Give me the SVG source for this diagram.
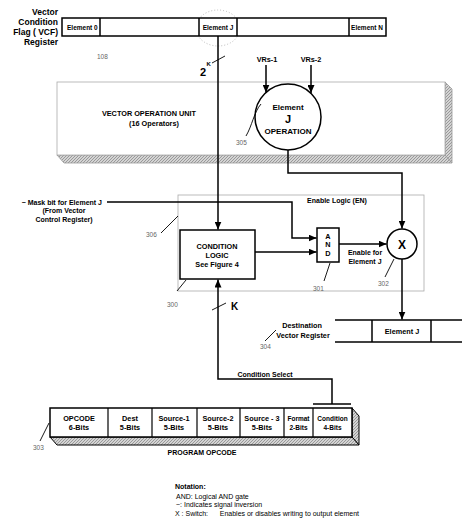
<svg xmlns="http://www.w3.org/2000/svg" width="474" height="526" viewBox="0 0 474 526">
<defs>
<marker id="arr" markerUnits="userSpaceOnUse" markerWidth="8" markerHeight="7" refX="8" refY="3.5" orient="auto">
<path d="M0,0 L8,3.5 L0,7 z" fill="#000"/>
</marker>
<pattern id="hatch" width="3" height="3" patternUnits="userSpaceOnUse">
<rect width="3" height="3" fill="#d4d4d4"/>
<path d="M0,3 L3,0" stroke="#8a8a8a" stroke-width="0.8"/>
</pattern>
<style>
text{font-family:"Liberation Sans",Arial,sans-serif;fill:#000}
.b{font-weight:bold}
.lbl{font-size:7.3px;font-weight:bold}
.ref{font-size:6.5px;fill:#666}
.box{fill:#fff;stroke:#000;stroke-width:1.5}
.wire{fill:none;stroke:#000;stroke-width:1.5}
.lead{fill:none;stroke:#000;stroke-width:0.9}
.note{font-size:7px}
</style>
</defs>

<g id="vcf-register">
<ellipse cx="218" cy="28" rx="22" ry="18" fill="none" stroke="#bbb" stroke-width="1" stroke-dasharray="1,2"/>
<rect class="box" x="62" y="18" width="324" height="18" fill="none"/>
<line x1="100" y1="18" x2="100" y2="36" stroke="#000" stroke-width="1.5"/>
<line x1="199" y1="18" x2="199" y2="36" stroke="#000" stroke-width="1.5"/>
<line x1="237" y1="18" x2="237" y2="36" stroke="#000" stroke-width="1.5"/>
<line x1="349" y1="18" x2="349" y2="36" stroke="#000" stroke-width="1.5"/>
<text x="67" y="29.5" font-size="6.5" class="b">Element  0</text>
<text x="218" y="29.5" font-size="6.5" class="b" text-anchor="middle">Element J</text>
<text x="367" y="29.5" font-size="6.5" class="b" text-anchor="middle">Element N</text>
<g font-size="8.5" class="b" text-anchor="end">
<text x="58" y="15">Vector</text>
<text x="58" y="25">Condition</text>
<text x="58" y="35">Flag ( VCF)</text>
<text x="58" y="45">Register</text>
</g>
<text class="ref" x="97" y="59">108</text>
</g>

<g id="vector-operation-unit">
<polygon points="445,82 452,89 452,163 445,155" fill="url(#hatch)" stroke="#999" stroke-width="0.8"/>
<polygon points="57,155 445,155 452,163 64,163" fill="url(#hatch)" stroke="#999" stroke-width="0.8"/>
<rect x="57" y="82" width="388" height="73" fill="#fff" stroke="#aaa" stroke-width="0.8"/>
<text class="lbl" x="149" y="116" text-anchor="middle">VECTOR OPERATION UNIT</text>
<text class="lbl" x="154" y="126" text-anchor="middle">(16 Operators)</text>
</g>

<g id="element-j-operation">
<circle cx="288" cy="117" r="33" fill="#fff" stroke="#000" stroke-width="1.5"/>
<text x="288" y="110" font-size="8" class="b" text-anchor="middle">Element</text>
<text x="288" y="123" font-size="11" class="b" text-anchor="middle">J</text>
<text x="288" y="134" font-size="8" class="b" text-anchor="middle">OPERATION</text>
<text class="ref" x="236" y="145">305</text>
<path class="lead" d="M246,136 C252,126 254,112 261,104"/>
<text class="lbl" x="267" y="62" text-anchor="middle">VRs-1</text>
<text class="lbl" x="311" y="62" text-anchor="middle">VRs-2</text>
</g>

<g id="enable-logic">
<rect x="178" y="195" width="246" height="96" fill="none" stroke="#aaa" stroke-width="0.8"/>
<text x="337" y="203" font-size="7" class="b" text-anchor="middle">Enable Logic (EN)</text>
<text class="ref" x="146" y="237">306</text>
<line class="lead" x1="161" y1="233" x2="178" y2="216"/>
</g>

<g id="mask-label">
<text x="102" y="204.5" font-size="7" class="b" text-anchor="end">~ Mask bit for Element J</text>
<text x="64" y="213" font-size="7" class="b" text-anchor="middle">(From Vector</text>
<text x="64" y="222" font-size="7" class="b" text-anchor="middle">Control Register)</text>
</g>

<g id="condition-logic">
<rect class="box" x="180" y="230" width="75" height="49"/>
<text class="lbl" x="217" y="249" text-anchor="middle">CONDITION</text>
<text class="lbl" x="217" y="258" text-anchor="middle">LOGIC</text>
<text class="lbl" x="217" y="267" text-anchor="middle">See Figure 4</text>
<text class="ref" x="167" y="307">300</text>
<line class="lead" x1="177" y1="291" x2="186" y2="280"/>
</g>

<g id="and-gate">
<rect class="box" x="317" y="228" width="22" height="34"/>
<text class="lbl" x="328" y="238.5" text-anchor="middle">A</text>
<text class="lbl" x="328" y="247" text-anchor="middle">N</text>
<text class="lbl" x="328" y="255.5" text-anchor="middle">D</text>
<text class="ref" x="313" y="291">301</text>
<line class="lead" x1="324" y1="281" x2="330" y2="263"/>
</g>

<g id="switch-x">
<circle cx="402" cy="244" r="15" fill="#fff" stroke="#000" stroke-width="1.5"/>
<text x="402" y="248.5" font-size="12" class="b" text-anchor="middle">X</text>
<text x="365" y="255" font-size="7" class="b" text-anchor="middle">Enable for</text>
<text x="365" y="263.5" font-size="7" class="b" text-anchor="middle">Element J</text>
<text class="ref" x="378" y="286">302</text>
<line class="lead" x1="385" y1="277" x2="394" y2="259"/>
</g>

<g id="destination-register">
<line x1="335" y1="320" x2="462" y2="320" stroke="#000" stroke-width="1.5"/>
<line x1="335" y1="342" x2="462" y2="342" stroke="#000" stroke-width="1.5"/>
<line x1="372" y1="320" x2="372" y2="342" stroke="#000" stroke-width="1.5"/>
<line x1="431" y1="320" x2="431" y2="342" stroke="#000" stroke-width="1.5"/>
<text class="lbl" x="402" y="334" text-anchor="middle">Element  J</text>
<text class="lbl" x="302" y="327.5" text-anchor="middle">Destination</text>
<text class="lbl" x="303" y="337.5" text-anchor="middle">Vector Register</text>
<text class="ref" x="260" y="349">304</text>
<line class="lead" x1="265" y1="341" x2="276" y2="330"/>
</g>

<g id="program-opcode">
<polygon points="352,408 359,416 359,445 352,437" fill="url(#hatch)" stroke="#000" stroke-width="1"/>
<polygon points="50,437 352,437 359,445 57,445" fill="url(#hatch)" stroke="#000" stroke-width="1"/>
<rect class="box" x="50" y="408" width="302" height="29"/>
<line x1="108" y1="408" x2="108" y2="437" stroke="#000" stroke-width="1.2"/>
<line x1="152" y1="408" x2="152" y2="437" stroke="#000" stroke-width="1.2"/>
<line x1="197" y1="408" x2="197" y2="437" stroke="#000" stroke-width="1.2"/>
<line x1="240" y1="408" x2="240" y2="437" stroke="#000" stroke-width="1.2"/>
<line x1="284" y1="408" x2="284" y2="437" stroke="#000" stroke-width="1.2"/>
<line x1="313" y1="408" x2="313" y2="437" stroke="#000" stroke-width="1.2"/>
<g class="lbl" text-anchor="middle">
<text x="79" y="421">OPCODE</text><text x="79" y="430">6-Bits</text>
<text x="130" y="421">Dest</text><text x="130" y="430">5-Bits</text>
<text x="174" y="421">Source-1</text><text x="174" y="430">5-Bits</text>
<text x="218" y="421">Source-2</text><text x="218" y="430">5-Bits</text>
<text x="262" y="421">Source - 3</text><text x="262" y="430">5-Bits</text>
</g>
<g font-size="6.5" class="b" text-anchor="middle">
<text x="298.5" y="421">Format</text><text x="298.5" y="429.5">2-Bits</text>
<text x="332.5" y="421">Condition</text><text x="332.5" y="429.5">4-Bits</text>
</g>
<text x="202" y="455" font-size="7" class="b" text-anchor="middle">PROGRAM OPCODE</text>
<text class="ref" x="33" y="450">303</text>
<line class="lead" x1="40" y1="441" x2="49" y2="423"/>
</g>

<g id="connectors">
<line class="wire" x1="218" y1="36" x2="218" y2="229.5" marker-end="url(#arr)"/>
<line class="lead" x1="212" y1="63" x2="225" y2="56"/>
<text x="200" y="76" font-size="11" class="b">2</text>
<text x="206.5" y="66" font-size="6" class="b">K</text>
<line class="wire" x1="266" y1="65" x2="266" y2="92.5" marker-end="url(#arr)"/>
<line class="wire" x1="311" y1="65" x2="311" y2="93" marker-end="url(#arr)"/>
<polyline class="wire" points="288,150 288,173 402,173 402,228.5" marker-end="url(#arr)"/>
<polyline class="wire" points="107,202 292,202 292,238 316.5,238" marker-end="url(#arr)"/>
<line class="wire" x1="255" y1="252" x2="316.5" y2="252" marker-end="url(#arr)"/>
<line class="wire" x1="339" y1="244" x2="386.5" y2="244" marker-end="url(#arr)"/>
<line class="wire" x1="402" y1="259" x2="402" y2="319.5" marker-end="url(#arr)"/>
<polyline class="wire" points="332,404 332,379 218,379 218,279.5" marker-end="url(#arr)"/>
<line class="wire" x1="313" y1="404" x2="351" y2="404"/>
<line class="lead" x1="212" y1="310" x2="226" y2="303"/>
<text x="231" y="310" font-size="10" class="b">K</text>
<text x="265" y="376.5" font-size="7" class="b" text-anchor="middle">Condition Select</text>
</g>

<g id="notation">
<text x="175" y="489" font-size="7" class="b">Notation:</text>
<text x="176" y="498.5" class="note">AND:   Logical AND gate</text>
<text x="176" y="507" class="note">~:     Indicates signal inversion</text>
<text x="175" y="515.5" class="note" xml:space="preserve">X : Switch:      Enables or disables writing to output element</text>
</g>
</svg>
